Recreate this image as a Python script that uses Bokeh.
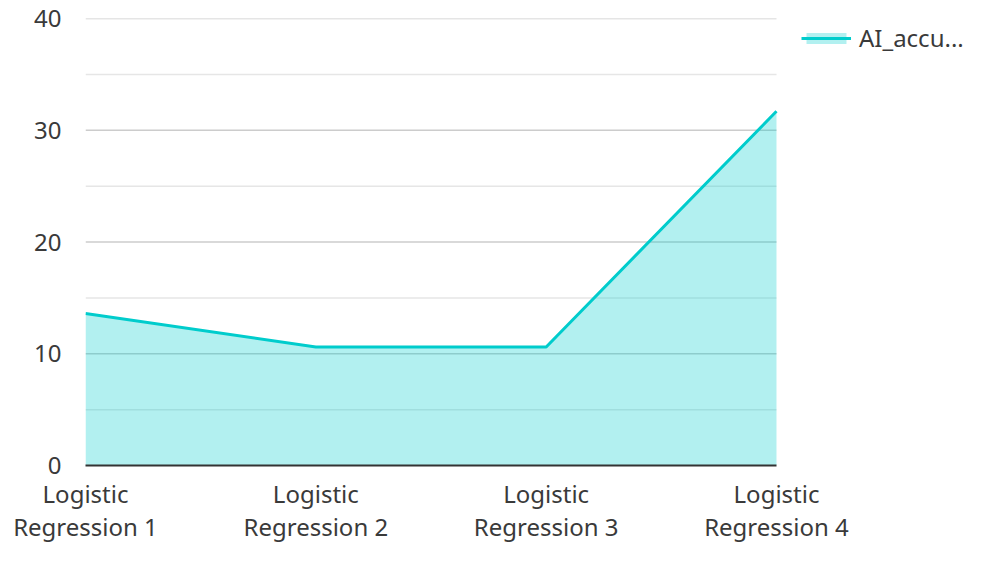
from bokeh.plotting import figure
from bokeh.models import Range1d, FixedTicker, Legend, LegendItem, ColumnDataSource
from bokeh.embed import file_html
from bokeh.resources import INLINE

categories = ["Logistic\nRegression 1", "Logistic\nRegression 2", "Logistic\nRegression 3", "Logistic\nRegression 4"]
values = [13.6, 10.6, 10.6, 31.7]
series_name = "AI_accu..."
y_major = [10, 20, 30, 40]
y_minor = [5, 15, 25, 35]
y_ticks = [0, 10, 20, 30, 40]

xs = list(range(len(categories)))
src = ColumnDataSource(dict(x=xs, y=values, y0=[0] * len(values)))

FONT = "Noto Sans"
TEAL = "#00cccc"
TXT = "#3a3a3a"

W, H = 965, 545
LEFT, TOP, BOTTOM = 85, 18, 465
DATA_RIGHT = 776
x_end = (len(categories) - 1) * (W - LEFT) / (DATA_RIGHT - LEFT)
frame_h = BOTTOM - TOP

p = figure(width=W, height=H, output_backend="svg", toolbar_location=None,
           x_range=Range1d(0, x_end), y_range=Range1d(0, 40),
           min_border_left=LEFT, min_border_right=0, min_border_top=TOP,
           min_border_bottom=H - BOTTOM)
p.outline_line_color = None
p.background_fill_color = "white"
p.border_fill_color = "white"
p.grid.visible = False

# horizontal grid lines limited to the data extent
x0 = [0] * 4
x1 = [len(categories) - 1] * 4
p.segment(x0=x0, x1=x1, y0=y_minor, y1=y_minor, line_color="#e6e6e6", line_width=1.5)
p.segment(x0=x0, x1=x1, y0=y_major, y1=y_major, line_color="#cccccc", line_width=1.5)

area = p.varea(x="x", y1="y0", y2="y", source=src, fill_color=TEAL, fill_alpha=0.3)
line = p.line(x="x", y="y", source=src, line_color=TEAL, line_width=3)

p.xaxis.ticker = FixedTicker(ticks=xs)
p.xaxis.bounds = (0, len(categories) - 1)
p.xaxis.major_label_overrides = {i: c for i, c in enumerate(categories)}
p.xaxis.major_tick_line_color = None
p.xaxis.minor_tick_line_color = None
p.xaxis.axis_line_color = "#333333"
p.xaxis.axis_line_width = 2
p.xaxis.major_label_text_font = FONT
p.xaxis.major_label_text_font_size = "24px"
p.xaxis.major_label_text_color = TXT
p.xaxis.major_label_text_line_height = 1.0
p.xaxis.major_label_standoff = 5

p.yaxis.ticker = FixedTicker(ticks=y_ticks)
p.yaxis.axis_line_color = None
p.yaxis.major_tick_line_color = None
p.yaxis.minor_tick_line_color = None
p.yaxis.major_label_text_font = FONT
p.yaxis.major_label_text_font_size = "24px"
p.yaxis.major_label_text_color = TXT
p.yaxis.major_label_standoff = 18

legend = Legend(items=[LegendItem(label=series_name, renderers=[area, line])],
                orientation="vertical",
                glyph_width=50, glyph_height=14, label_standoff=8,
                label_text_font=FONT, label_text_font_size="24px", label_text_color=TXT,
                border_line_color=None, background_fill_alpha=0,
                margin=0, padding=0,
                location=(DATA_RIGHT + 25 - LEFT, frame_h - 36))
p.add_layout(legend, "center")

open("out.html", "w").write(file_html(p, INLINE))
